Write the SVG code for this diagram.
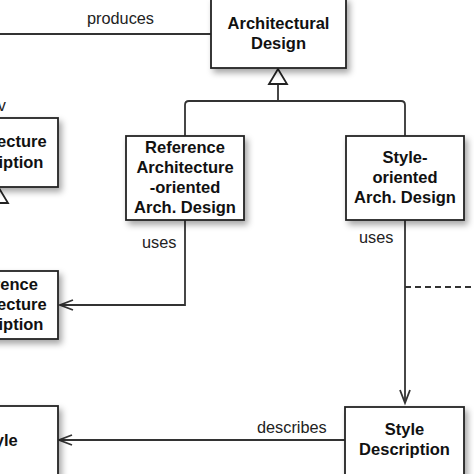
<svg xmlns="http://www.w3.org/2000/svg" width="474" height="474" viewBox="0 0 474 474">
<style>
.box{fill:#fff;stroke:#222;stroke-width:1.8;filter:url(#sh)}
.t{font-family:"Liberation Sans",Arial,sans-serif;font-weight:bold;font-size:16.5px;fill:#111;text-anchor:middle}
.l{font-family:"Liberation Sans",Arial,sans-serif;font-size:16.3px;fill:#222}
.c{fill:none;stroke:#333;stroke-width:1.8}
.d{fill:none;stroke:#333;stroke-width:1.8;stroke-dasharray:6 4}
.tri{fill:#fff;stroke:#222;stroke-width:1.8}
</style>
<defs>
<filter id="sh" x="-20%" y="-20%" width="150%" height="150%">
<feDropShadow dx="3" dy="4" stdDeviation="3" flood-color="#000" flood-opacity="0.35"/>
</filter>
</defs>
<rect width="474" height="474" fill="#fff"/>
<g id="connectors">
<path class="c" d="M0 34 H211"/>
<path class="c" d="M278 84 V101"/>
<path class="c" d="M185 136 V105 Q185 101 189 101 H401 Q405 101 405 105 V136"/>
<path class="c" d="M185 220 V305 H60"/>
<path class="c" d="M73 300 L60 305 L73 310"/>
<path class="c" d="M405 220 V403"/>
<path class="c" d="M400 390 L405 403 L410 390"/>
<path class="d" d="M405 287 H474"/>
<path class="c" d="M345 440 H59"/>
<path class="c" d="M72 435 L59 440 L72 445"/>
<polygon class="tri" points="278,69 269,84 287,84"/>
<polygon class="tri" points="-1,188 -10,203 8,203"/>
<text class="l" x="87" y="24">produces</text>
<text class="l" x="6" y="111" text-anchor="end">v</text>
<text class="l" x="142" y="248">uses</text>
<text class="l" x="359" y="243">uses</text>
<text class="l" x="257" y="433">describes</text>
</g>
<g id="architectural-design">
<rect class="box" x="211" y="-2" width="135" height="70"/>
<text class="t" x="278.5" y="29">Architectural</text>
<text class="t" x="278.5" y="49">Design</text>
</g>
<g id="architecture-description">
<rect class="box" x="-62" y="118" width="120" height="69"/>
<text class="t" x="-2" y="147">Architecture</text>
<text class="t" x="-2" y="168">Description</text>
</g>
<g id="ref-arch-oriented">
<rect class="box" x="126" y="136" width="118" height="84"/>
<text class="t" x="185" y="153">Reference</text>
<text class="t" x="185" y="173">Architecture</text>
<text class="t" x="185" y="193">-oriented</text>
<text class="t" x="185" y="213">Arch. Design</text>
</g>
<g id="style-oriented">
<rect class="box" x="346" y="136" width="118" height="84"/>
<text class="t" x="405" y="163">Style-</text>
<text class="t" x="405" y="183">oriented</text>
<text class="t" x="405" y="203">Arch. Design</text>
</g>
<g id="ref-arch-description">
<rect class="box" x="-62" y="271" width="120" height="68"/>
<text class="t" x="-2" y="290">Reference</text>
<text class="t" x="-2" y="310">Architecture</text>
<text class="t" x="-2" y="330">Description</text>
</g>
<g id="style">
<rect class="box" x="-62" y="406" width="120" height="84"/>
<text class="t" x="-2" y="446">Style</text>
</g>
<g id="style-description">
<rect class="box" x="345" y="407" width="119" height="84"/>
<text class="t" x="404.5" y="435">Style</text>
<text class="t" x="404.5" y="455">Description</text>
</g>
</svg>
